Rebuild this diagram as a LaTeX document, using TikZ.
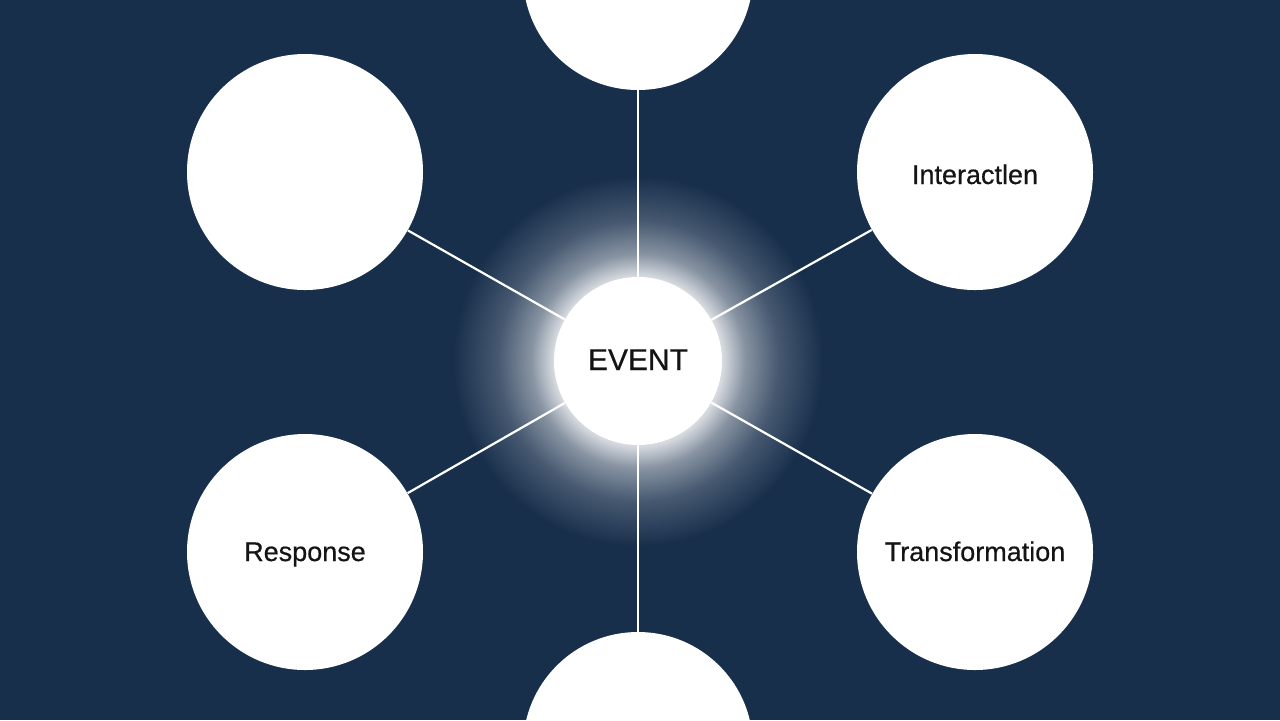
\documentclass[tikz,border=0pt]{standalone}
\usepackage{fontspec}
\setmainfont{Liberation Sans}
\newfontfamily\labelfont{Liberation Sans}[FakeBold=0.5]
\definecolor{kNavy}{RGB}{24,47,76}
\pgfdeclareradialshading{glow}{\pgfpoint{0bp}{0bp}}{color(0bp)=(white); color(11.5bp)=(white!82!kNavy); color(14.5bp)=(white!48!kNavy); color(19bp)=(white!20!kNavy); color(25bp)=(kNavy); color(50bp)=(kNavy)}
\begin{document}
\begin{tikzpicture}[x=0.5pt,y=-0.5pt]
  \definecolor{kInk}{RGB}{20,20,22}
  \tikzset{
    bubble/.style={circle,fill=white,text=kInk,inner sep=0pt,text height=0.9em,text depth=0pt,
      font=\labelfont\fontsize{13.5}{16}\selectfont},
    spoke/.style={draw=white,line width=1.1pt}
  }

  \useasboundingbox (0,0) rectangle (1280,720);
  \clip (0,0) rectangle (1280,720);
  \fill[kNavy] (0,0) rectangle (1280,720);

  % glow behind the centre
  \shade[shading=glow] (638,361) circle (185);

  \node[bubble,minimum size=84pt,font=\labelfont\fontsize{15}{18}\selectfont] (event) at (638,361) {EVENT};

  \node[bubble,minimum size=115pt] (top) at (638,-25) {};
  \node[bubble,minimum size=115pt] (bottom) at (638,747) {};
  \node[bubble,minimum size=118pt] (upleft) at (305,172) {};
  \node[bubble,minimum size=118pt,text height=1.2em] (upright) at (975,172) {Interactlen};
  \node[bubble,minimum size=118pt] (lowleft) at (305,552) {Response};
  \node[bubble,minimum size=118pt] (lowright) at (975,552) {Transformation};

  \draw[spoke] (event) -- (top);
  \draw[spoke] (event) -- (bottom);
  \draw[spoke] (event) -- (upleft);
  \draw[spoke] (event) -- (upright);
  \draw[spoke] (event) -- (lowleft);
  \draw[spoke] (event) -- (lowright);

\end{tikzpicture}
\end{document}
